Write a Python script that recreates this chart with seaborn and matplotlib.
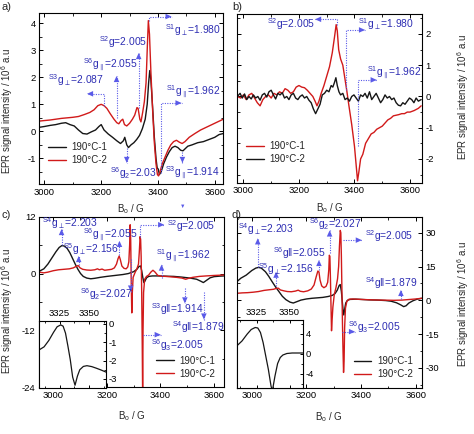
import matplotlib
matplotlib.use("Agg")
import matplotlib.pyplot as plt
from matplotlib.ticker import MultipleLocator, AutoMinorLocator
import seaborn as sns

# ---------------- data (field in G, intensity in 10^6 a.u.) ----------------
# panel a
a_black_x = [2982, 3000, 3020, 3040, 3060, 3075, 3090, 3105, 3120, 3135, 3150, 3165, 3180, 3192, 3200,
             3210, 3225, 3240, 3255, 3268, 3278, 3283, 3290, 3296, 3305, 3315, 3325, 3335, 3345, 3355,
             3362, 3367, 3371, 3375, 3381, 3387, 3393, 3397, 3401, 3405, 3411, 3420, 3430, 3440, 3450,
             3460, 3470, 3480, 3488, 3495, 3505, 3520, 3540, 3560, 3580, 3600, 3615, 3630]
a_black_y = [0.15, 0.18, 0.22, 0.25, 0.3, 0.32, 0.25, 0.2, 0.05, -0.08, -0.1, -0.02, 0.05, 0.18, 0.25,
             0.05, -0.1, -0.22, -0.35, -0.45, -0.35, -0.22, -0.5, -0.6, -0.5, -0.42, -0.3, -0.15, 0.1, 0.45,
             1.0, 1.8, 2.25, 1.9, 0.9, -0.2, -1.0, -1.35, -1.4, -1.6, -1.5, -1.2, -0.95, -0.75, -0.6,
             -0.55, -0.6, -0.7, -0.72, -0.65, -0.55, -0.5, -0.42, -0.38, -0.3, -0.22, -0.12, -0.08]
a_red_x = [2982, 3000, 3020, 3040, 3060, 3080, 3100, 3120, 3140, 3160, 3175, 3188, 3200, 3210, 3220,
           3232, 3245, 3255, 3262, 3270, 3276, 3282, 3290, 3300, 3310, 3318, 3326, 3330, 3336, 3340,
           3346, 3352, 3358, 3362, 3366, 3370, 3375, 3381, 3387, 3393, 3398, 3402, 3407, 3415, 3425,
           3435, 3445, 3455, 3465, 3475, 3485, 3495, 3510, 3530, 3550, 3570, 3590, 3610, 3630]
a_red_y = [0.38, 0.4, 0.42, 0.45, 0.48, 0.5, 0.52, 0.55, 0.62, 0.7, 0.8, 0.95, 1.0, 0.95, 0.85,
           0.65, 0.45, 0.32, 0.28, 0.4, 0.45, 0.25, 0.2, 0.3, 0.45, 0.6, 0.88, 0.85, 0.45, 0.35,
           0.7, 1.1, 1.8, 3.0, 4.1, 3.6, 2.2, 0.8, -0.4, -1.2, -1.6, -1.65, -1.5, -1.2, -0.95,
           -0.7, -0.5, -0.38, -0.33, -0.4, -0.45, -0.38, -0.22, -0.08, 0.05, 0.15, 0.25, 0.35, 0.45]

# panel b
b_red_x = [2978, 2990, 3000, 3010, 3020, 3030, 3040, 3050, 3060, 3070, 3080, 3090, 3100, 3110, 3120,
           3130, 3140, 3150, 3160, 3170, 3180, 3190, 3200, 3210, 3220, 3230, 3240, 3250, 3258, 3265,
           3272, 3280, 3290, 3300, 3310, 3320, 3328, 3334, 3338, 3343, 3350, 3358, 3365, 3372, 3380,
           3390, 3400, 3406, 3411, 3416, 3422, 3430, 3440, 3450, 3460, 3470, 3480, 3490, 3500, 3510,
           3520, 3530, 3540, 3550, 3560, 3570, 3580, 3590, 3600, 3615, 3630, 3640]
b_red_y = [0.0, -0.05, 0.05, -0.1, 0.05, 0.1, -0.05, -0.2, -0.3, -0.1, 0.0, 0.05, -0.05, 0.1, 0.05,
           0.15, 0.1, 0.25, 0.2, 0.1, 0.15, 0.3, 0.35, 0.3, 0.28, 0.2, 0.1, 0.0, -0.15, -0.3,
           -0.15, 0.1, 0.35, 0.65, 0.95, 1.4, 1.9, 2.3, 2.1, 1.5, 1.2, 1.0, 0.6, 0.2, -0.3,
           -0.9, -1.6, -2.2, -2.7, -2.4, -2.0, -1.85, -1.5, -1.35, -1.2, -1.15, -1.05, -1.0, -0.95, -0.85,
           -0.75, -0.7, -0.62, -0.6, -0.58, -0.55, -0.55, -0.5, -0.5, -0.45, -0.38, -0.3]
b_black_x = [2978, 2988, 2996, 3004, 3012, 3020, 3028, 3036, 3044, 3052, 3060, 3068, 3076, 3084, 3092,
             3100, 3108, 3116, 3124, 3132, 3140, 3148, 3156, 3164, 3172, 3180, 3188, 3196, 3204, 3212,
             3220, 3228, 3236, 3244, 3252, 3260, 3268, 3276, 3284, 3292, 3300, 3308, 3316, 3322, 3328,
             3333, 3338, 3344, 3350, 3358, 3366, 3374, 3382, 3390, 3398, 3406, 3414, 3422, 3430, 3438,
             3446, 3454, 3462, 3470, 3478, 3486, 3494, 3502, 3510, 3518, 3526, 3534, 3542, 3550, 3558,
             3566, 3574, 3582, 3590, 3598, 3606, 3614, 3622, 3630, 3640]
b_black_y = [0.0, 0.1, -0.05, 0.08, -0.1, 0.0, -0.08, 0.05, -0.05, 0.0, -0.12, 0.05, 0.1, -0.02, 0.15,
             0.2, 0.05, -0.08, 0.1, 0.05, 0.12, -0.05, 0.0, -0.1, 0.05, 0.1, -0.05, -0.1, 0.0, 0.05,
             -0.05, 0.0, -0.12, -0.2, -0.4, -0.55, -0.4, -0.25, 0.05, 0.1, 0.2, 0.15, 0.35, 0.3, 0.45,
             0.6, 0.35, 0.15, 0.05, 0.1, -0.1, -0.05, -0.15, 0.0, 0.05, -0.05, -0.15, 0.05, 0.0, 0.1,
             -0.05, 0.15, -0.1, 0.0, 0.1, -0.05, -0.2, -0.1, 0.05, -0.05, 0.0, -0.1, -0.05, -0.2, -0.28,
             -0.3, -0.2, -0.25, -0.15, -0.05, -0.1, -0.2, -0.05, -0.15, -0.1]

# panel c
c_black_x = [2948, 2965, 2980, 2995, 3010, 3022, 3032, 3042, 3052, 3062, 3072, 3082, 3092, 3102, 3112,
             3125, 3140, 3155, 3175, 3200, 3230, 3260, 3280, 3300, 3312, 3320, 3326, 3330, 3334, 3338,
             3342, 3348, 3356, 3370, 3390, 3420, 3450, 3480, 3510, 3535, 3550, 3560, 3570, 3585, 3600,
             3620, 3637]
c_black_y = [0.5, 1.0, 2.0, 3.3, 4.6, 5.5, 5.9, 5.8, 5.3, 4.4, 3.2, 2.0, 0.9, 0.0, -0.6,
             -0.95, -1.1, -1.0, -0.8, -0.6, -0.4, -0.2, 0.0, 0.4, 0.9, 1.5, 1.6, 0.6, -0.8, -1.9,
             -1.6, -0.9, -0.6, -0.5, -0.5, -0.55, -0.6, -0.75, -0.95, -1.2, -1.6, -1.9, -1.5, -0.9, -0.65,
             -0.55, -0.5]
c_red_x = [2948, 2965, 2980, 3000, 3020, 3040, 3060, 3075, 3085, 3093, 3100, 3110, 3125, 3140, 3155,
           3165, 3172, 3182, 3192, 3205, 3218, 3228, 3236, 3242, 3246, 3250, 3256, 3264, 3272, 3278,
           3282, 3285, 3287, 3289, 3291, 3293, 3295, 3298, 3305, 3312, 3318, 3321, 3324, 3326, 3328,
           3330, 3332, 3333.5, 3335, 3337, 3341, 3348, 3356, 3364, 3372, 3380, 3390, 3405, 3420, 3440,
           3460, 3480, 3494, 3505, 3520, 3545, 3570, 3600, 3637]
c_red_y = [0.3, 0.15, 0.3, 0.6, 0.8, 0.9, 1.0, 1.2, 1.5, 1.7, 1.2, 0.9, 0.75, 0.7, 0.8,
           1.0, 0.8, 0.95, 0.7, 0.8, 0.9, 1.2, 2.0, 3.2, 3.7, 3.0, 1.6, 1.1, 1.0, 1.4,
           2.5, 6.0, 10.3, 7.0, -2.0, -8.3, -4.0, -0.8, 0.2, 1.0, 2.0, 4.5, 7.8, 7.2, 3.5,
           -4.0, -15.0, -26.0, -12.0, -4.0, -1.2, -0.6, -0.3, 0.3, 0.7, 0.3, -0.4, -0.55, -0.6, -0.7,
           -0.8, -0.95, -1.2, -1.0, -0.8, -0.6, -0.5, -0.4, -0.3]
c_inset_x = [3308, 3312, 3316, 3320, 3323, 3326, 3328, 3330, 3332, 3334, 3336, 3338, 3340, 3342, 3345,
             3348, 3352, 3356, 3360, 3364]
c_inset_y = [-1.41, -1.25, -0.9, -0.45, -0.15, -0.05, -0.12, -0.5, -1.2, -1.95, -2.9, -3.35, -2.85, -2.5, -2.32,
             -2.28, -2.33, -2.42, -2.52, -2.63]

# panel d
d_black_x = [2945, 2960, 2980, 3000, 3015, 3025, 3035, 3050, 3062, 3075, 3088, 3100, 3112, 3125, 3140,
             3152, 3165, 3180, 3200, 3220, 3240, 3260, 3280, 3295, 3305, 3313, 3320, 3324, 3328, 3331,
             3334, 3337, 3340, 3344, 3350, 3360, 3380, 3400, 3430, 3460, 3490, 3510, 3530, 3545, 3556,
             3565, 3575, 3590, 3605, 3622]
d_black_y = [8.2, 9.8, 11.2, 13.2, 14.3, 14.6, 14.3, 12.7, 10.7, 8.2, 5.8, 3.8, 1.8, 0.3, -0.8,
             -1.2, -0.6, 0.1, 0.6, 0.9, 1.1, 1.3, 1.7, 2.2, 3.0, 4.5, 6.6, 7.0, 4.0, 0.0,
             -4.0, -6.5, -4.0, -1.2, 0.0, 0.4, 0.5, 0.4, 0.2, 0.1, -0.1, -0.4, -1.1, -2.0, -2.8,
             -2.4, -1.2, -0.2, 0.5, 0.9]
d_red_x = [2945, 2965, 2985, 3005, 3025, 3045, 3065, 3080, 3090, 3097, 3105, 3118, 3130, 3145, 3160,
           3170, 3178, 3190, 3205, 3218, 3228, 3236, 3242, 3246, 3250, 3256, 3264, 3272, 3278, 3282,
           3284, 3286, 3288, 3290, 3292, 3294, 3297, 3302, 3308, 3314, 3318, 3321, 3324, 3326, 3328,
           3330, 3332, 3334, 3336, 3338, 3340, 3343, 3348, 3356, 3370, 3400, 3440, 3480, 3520, 3550,
           3580, 3600, 3622]
d_red_y = [3.1, 3.3, 3.4, 3.6, 3.9, 4.4, 4.7, 4.9, 5.3, 5.4, 4.6, 4.2, 3.9, 3.8, 4.1,
           4.5, 4.0, 3.8, 4.2, 5.0, 6.8, 10.5, 13.0, 12.6, 9.0, 6.4, 5.6, 6.2, 8.0, 13.5,
           20.0, 19.5, 10.0, -2.0, -13.5, -9.0, -3.0, 2.5, 5.5, 9.5, 15.0, 24.0, 31.0, 30.0, 20.0,
           5.0, -10.0, -22.0, -32.0, -27.0, -12.0, -3.5, -0.5, 0.5, 0.6, 0.4, 0.2, 0.1, 0.0, 0.1,
           0.4, 0.6, 0.9]
d_inset_x = [3310, 3314, 3318, 3321, 3324, 3326, 3328, 3330, 3332, 3334, 3336, 3337, 3339, 3341, 3343,
             3345, 3348, 3352, 3356, 3360]
d_inset_y = [1.5, 2.5, 3.9, 4.8, 5.2, 5.1, 4.2, 2.2, -0.5, -3.2, -6.5, -7.5, -4.5, -2.0, -0.8,
             -0.3, 0.0, 0.1, 0.1, 0.1]

# labels of the g-value notes: text, text position, dotted guide path (last point gets the arrow)
a_notes = [(r"$^{S3}$g$_{\perp}$=2.087", (3014, 1.9), [(3210, 0.95), (3210, 1.39), (3150, 1.39)]),
           (r"$^{S6}$g$_{\parallel}$=2.055", (3135, 2.46), [(3254, 0.5), (3254, 2.05)]),
           (r"$^{S2}$g=2.005", (3193, 3.32), [(3332, 0.85), (3332, 2.9)]),
           (r"$^{S1}$g$_{\perp}$=1.980", (3424, 3.73), [(3368, 4.1), (3368, 4.25), (3448, 4.25)]),
           (r"$^{S1}$g$_{\parallel}$=1.962", (3427, 1.48), [(3410, -1.55), (3410, 1.05), (3483, 1.05)]),
           (r"$^{S6}$g$_{2}$=2.03", (3231, -1.54), [(3290, -0.6), (3290, -1.17)]),
           (r"$^{S3}$g$_{\parallel}$=1.914", (3424, -1.54), [(3486, -0.75), (3486, -1.17)])]
b_notes = [(r"$^{S2}$g=2.005", (3084, 2.33), [(3336, 2.28), (3336, 2.47), (3258, 2.47)]),
           (r"$^{S1}$g$_{\perp}$=1.980", (3414, 2.33), [(3370, 0.2), (3370, 2.13), (3438, 2.13)]),
           (r"$^{S1}$g$_{\parallel}$=1.962", (3444, 0.77), [(3414, -1.6), (3414, 0.53), (3480, 0.53)])]
c_notes = [(r"$^{S4}$g$_{\perp}$=2.203", (2957, 10.7), [(3031, 6.1), (3031, 9.4)]),
           (r"$^{S5}$g$_{\perp}$=2.156", (3037, 5.1), [(3095, 1.9), (3095, 3.7)]),
           (r"$^{S6}$g$_{\parallel}$=2.055", (3112, 8.2), [(3247, 3.9), (3247, 6.9)]),
           (r"$^{S2}$g=2.005", (3426, 10.0), [(3325, 7.8), (3325, 10.3), (3414, 10.3)]),
           (r"$^{S1}$g$_{\parallel}$=1.962", (3383, 3.7), [(3404, -0.9), (3404, 1.9)]),
           (r"$^{S6}$g$_{2}$=2.027", (3099, -4.4), [(3289, 3.0), (3289, -3.8)]),
           (r"$^{S3}$g$\Vert$=1.914", (3364, -7.6), [(3491, -3.0), (3491, -6.3)]),
           (r"$^{S4}$g$\Vert$=1.879", (3444, -11.2), [(3562, -3.8), (3562, -9.7)]),
           (r"$^{S6}$g$_{3}$=2.005", (3364, -15.0), [(3333, -12.9), (3401, -12.9)])]
d_notes = [(r"$^{S4}$g$_{\perp}$=2.203", (2948, 31.5), [(3022, 15.0), (3022, 27.5)]),
           (r"$^{S5}$g$_{\perp}$=2.156", (3024, 13.7), [(3089, 6.5), (3089, 12.7)]),
           (r"$^{S6}$g$\Vert$=2.055", (3079, 21.1), [(3246, 13.5), (3246, 17.9)]),
           (r"$^{S6}$g$_{2}$=2.027", (3210, 33.8), [(3285, 21.0), (3285, 31.0)]),
           (r"$^{S2}$g=2.005", (3415, 28.5), [(3333, 26.7), (3403, 26.7)]),
           (r"$^{S4}$g$\Vert$=1.879", (3415, 7.8), [(3546, 0.4), (3546, 4.6)]),
           (r"$^{S6}$g$_{3}$=2.005", (3354, -12.0), [(3330, -13.9), (3378, -13.9)])]

# ---------------- style ----------------
sns.set_theme(style="ticks")
plt.rcParams['font.family'] = ['Liberation Sans', 'DejaVu Sans']
plt.rcParams['mathtext.fontset'] = 'custom'
plt.rcParams['mathtext.rm'] = 'Liberation Sans'
plt.rcParams['mathtext.it'] = 'Liberation Sans:italic'
plt.rcParams['mathtext.bf'] = 'Liberation Sans:bold'
plt.rcParams['mathtext.default'] = 'regular'
plt.rcParams['axes.unicode_minus'] = False
plt.rcParams['axes.edgecolor'] = 'black'
plt.rcParams['axes.linewidth'] = 0.8
plt.rcParams['xtick.color'] = 'black'
plt.rcParams['ytick.color'] = 'black'

BLACK = '#161616'
RED = '#d11a1a'
BLUE = '#2e2eb3'
DOT = '#5a5ae8'
W, H = 474, 434
YLAB = "EPR signal intensity / 10$^6$ a.u"


def rect(l, t, r, b):
    return [l / W, 1 - b / H, (r - l) / W, (b - t) / H]


def style_axes(ax, xlim, ylim, ystep, right=False, ylab=(-0.13, 0.45), xlabel_y=-0.11):
    ax.set_xlim(*xlim)
    ax.set_ylim(*ylim)
    ax.xaxis.set_major_locator(MultipleLocator(200))
    ax.xaxis.set_minor_locator(AutoMinorLocator(2))
    ax.yaxis.set_major_locator(MultipleLocator(ystep))
    ax.yaxis.set_minor_locator(AutoMinorLocator(2))
    ax.tick_params(which='both', direction='in', top=True, right=True, left=True, bottom=True,
                   labelsize=6.8, pad=2.5)
    ax.tick_params(which='major', length=3, width=0.7)
    ax.tick_params(which='minor', length=1.8, width=0.6)
    if right:
        ax.tick_params(labelleft=False, labelright=True)
        ax.yaxis.set_label_position('right')
    ax.set_xlabel("B$_o$ / G", fontsize=7.0)
    ax.set_ylabel(YLAB, fontsize=6.9)
    ax.yaxis.set_label_coords(*ylab)
    ax.xaxis.set_label_coords(0.5, xlabel_y)


def add_notes(ax, notes):
    for txt, (tx, ty), pts in notes:
        ax.text(tx, ty, txt, color=BLUE, fontsize=7.4, ha='left', va='center', zorder=6)
        xs = [p[0] for p in pts]
        ys = [p[1] for p in pts]
        ax.plot(xs, ys, ls=(0, (1, 1.2)), color=DOT, lw=0.8, zorder=5)
        ax.annotate('', xy=pts[-1], xytext=pts[-2], zorder=5,
                    arrowprops=dict(arrowstyle='-|>,head_length=0.55,head_width=0.25',
                                    fc=DOT, ec='none', lw=0, mutation_scale=8,
                                    shrinkA=0, shrinkB=0))


def add_legend(ax, loc, anchor):
    ax.legend(loc=loc, bbox_to_anchor=anchor, frameon=False, fontsize=7,
              handlelength=1.8, handletextpad=0.6, labelspacing=0.3)


fig = plt.figure(figsize=(W / 100, H / 100), dpi=100)

# ---- a ----
ax_a = fig.add_axes(rect(39.3, 13.3, 223.3, 184.3))
sns.lineplot(x=a_black_x, y=a_black_y, ax=ax_a, color=BLACK, lw=1.0, label="190°C-1")
sns.lineplot(x=a_red_x, y=a_red_y, ax=ax_a, color=RED, lw=1.0, label="190°C-2")
style_axes(ax_a, (2982, 3630), (-1.96, 4.37), 1, ylab=(-0.13, 0.43), xlabel_y=-0.105)
add_notes(ax_a, a_notes)
add_legend(ax_a, 'lower left', (0.0, 0.06))

# ---- b ----
ax_b = fig.add_axes(rect(237.3, 14.0, 421.7, 183.0))
sns.lineplot(x=b_red_x, y=b_red_y, ax=ax_b, color=RED, lw=1.0, label="190°C-1")
sns.lineplot(x=b_black_x, y=b_black_y, ax=ax_b, color=BLACK, lw=1.0, label="190°C-2")
style_axes(ax_b, (2978, 3642), (-2.77, 2.64), 1, right=True, ylab=(1.18, 0.51), xlabel_y=-0.11)
add_notes(ax_b, b_notes)
add_legend(ax_b, 'lower left', (0.0, 0.06))

# ---- c ----
ax_c = fig.add_axes(rect(39.3, 216.7, 224.0, 387.3))
sns.lineplot(x=c_black_x, y=c_black_y, ax=ax_c, color=BLACK, lw=1.0, label="190°C-1")
sns.lineplot(x=c_red_x, y=c_red_y, ax=ax_c, color=RED, lw=1.0, label="190°C-2")
style_axes(ax_c, (2948, 3637), (-24, 12), 12, ylab=(-0.13, 0.45), xlabel_y=-0.13)
add_notes(ax_c, c_notes)
add_legend(ax_c, 'lower right', (1.0, 0.0))

# ---- d ----
ax_d = fig.add_axes(rect(236.7, 216.7, 421.7, 388.0))
sns.lineplot(x=d_black_x, y=d_black_y, ax=ax_d, color=BLACK, lw=1.0, label="190°C-1")
sns.lineplot(x=d_red_x, y=d_red_y, ax=ax_d, color=RED, lw=1.0, label="190°C-2")
style_axes(ax_d, (2945, 3622), (-38.9, 37.1), 15, right=True, ylab=(1.18, 0.49), xlabel_y=-0.13)
add_notes(ax_d, d_notes)
add_legend(ax_d, 'lower right', (1.0, 0.0))


# ---- insets ----
def style_inset(ax, xlim, ylim, ystep):
    ax.set_xlim(*xlim)
    ax.set_ylim(*ylim)
    ax.xaxis.set_major_locator(MultipleLocator(25))
    ax.xaxis.set_minor_locator(AutoMinorLocator(2))
    ax.yaxis.set_major_locator(MultipleLocator(ystep))
    ax.yaxis.set_minor_locator(AutoMinorLocator(2))
    ax.tick_params(which='both', direction='in', top=True, bottom=True, left=False, right=True,
                   labeltop=True, labelbottom=False, labelleft=False, labelright=True,
                   labelsize=6.8, pad=2)
    ax.tick_params(which='major', length=2.5, width=0.7)
    ax.tick_params(which='minor', length=1.5, width=0.6)
    ax.set_xlabel("")
    ax.set_ylabel("")
    ax.set_facecolor('white')


ins_c = fig.add_axes(rect(39.3, 320.7, 106.0, 388.0))
sns.lineplot(x=c_inset_x, y=c_inset_y, ax=ins_c, color=BLACK, lw=0.9)
style_inset(ins_c, (3308, 3364), (-3.5, 0.18), 1)

ins_d = fig.add_axes(rect(236.7, 320.0, 302.7, 388.0))
sns.lineplot(x=d_inset_x, y=d_inset_y, ax=ins_d, color=BLACK, lw=0.9)
style_inset(ins_d, (3310, 3360), (-6.9, 6.7), 4)

# panel letters
for lab, (px, py) in zip(["a)", "b)", "c)", "d)"], [(2, 2), (232, 2), (2, 210), (232, 210)]):
    fig.text(px / W, 1 - py / H, lab, fontsize=8, va='top', ha='left')

fig.text(183 / W, 1 - 206 / H, "\u25BC", fontsize=4, color=DOT, ha='center', va='center')

fig.savefig("out.png", dpi=100)
